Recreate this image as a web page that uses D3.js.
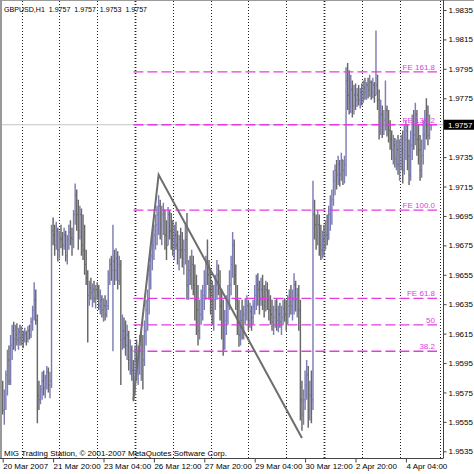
<!DOCTYPE html>
<html><head><meta charset="utf-8">
<script src="https://cdn.jsdelivr.net/npm/d3@7"></script>
<style>body{margin:0;background:#fff}svg{display:block}text{font-family:"Liberation Sans",Arial,sans-serif}</style>
</head><body><svg id="c" width="474" height="474"></svg>
<script>
// ---- data (GBPUSD, H1, 20 Mar 2007 12:00 .. 4 Apr 2007) ----
const opens=[
1.9577,1.9563,1.9570,1.9587,1.9597,1.9583,1.9607,1.9617,1.9611,1.9614,
1.9611,1.9616,1.9612,1.9614,1.9611,1.9615,1.9612,1.9617,1.9614,1.9623,
1.9631,1.9638,1.9624,1.9573,1.9570,1.9577,1.9583,1.9578,1.9585,1.9589,
1.9580,1.9583,1.9685,1.9682,1.9675,1.9685,1.9672,1.9680,1.9679,1.9675,
1.9682,1.9668,1.9679,1.9684,1.9680,1.9679,1.9696,1.9709,1.9696,1.9685,
1.9696,1.9675,1.9672,1.9662,1.9653,1.9641,1.9646,1.9643,1.9645,1.9639,
1.9645,1.9641,1.9634,1.9638,1.9631,1.9634,1.9628,1.9634,1.9655,1.9662,
1.9658,1.9664,1.9658,1.9666,1.9651,1.9662,1.9611,1.9617,1.9612,1.9607,
1.9614,1.9597,1.9604,1.9590,1.9580,1.9597,1.9593,1.9600,1.9604,1.9607,
1.9597,1.9617,1.9631,1.9638,1.9655,1.9668,1.9675,1.9682,1.9689,1.9696,
1.9702,1.9689,1.9696,1.9699,1.9682,1.9675,1.9696,1.9685,1.9679,1.9675,
1.9682,1.9675,1.9672,1.9679,1.9672,1.9666,1.9672,1.9679,1.9648,1.9658,
1.9655,1.9662,1.9648,1.9638,1.9631,1.9617,1.9628,1.9638,1.9641,1.9648,
1.9662,1.9655,1.9645,1.9638,1.9631,1.9638,1.9648,1.9655,1.9648,1.9634,
1.9621,1.9611,1.9624,1.9634,1.9638,1.9648,1.9662,1.9675,1.9655,1.9638,
1.9621,1.9614,1.9624,1.9617,1.9628,1.9631,1.9634,1.9624,1.9630,1.9626,
1.9634,1.9641,1.9648,1.9645,1.9638,1.9645,1.9639,1.9634,1.9645,1.9638,
1.9631,1.9628,1.9623,1.9626,1.9631,1.9624,1.9628,1.9623,1.9626,1.9632,
1.9628,1.9624,1.9634,1.9639,1.9634,1.9638,1.9648,1.9638,1.9641,1.9631,
1.9570,1.9560,1.9570,1.9580,1.9587,1.9563,1.9573,1.9570,1.9696,1.9689,
1.9679,1.9689,1.9675,1.9672,1.9679,1.9675,1.9682,1.9679,1.9696,1.9699,
1.9706,1.9719,1.9726,1.9723,1.9730,1.9723,1.9733,1.9726,1.9730,1.9787,
1.9777,1.9774,1.9781,1.9770,1.9777,1.9774,1.9777,1.9774,1.9779,1.9775,
1.9782,1.9779,1.9784,1.9781,1.9786,1.9779,1.9784,1.9777,1.9784,1.9774,
1.9753,1.9764,1.9757,1.9760,1.9767,1.9757,1.9753,1.9747,1.9740,1.9743,
1.9734,1.9740,1.9730,1.9736,1.9740,1.9726,1.9747,1.9753,1.9736,1.9723,
1.9743,1.9757,1.9750,1.9764,1.9747,1.9740,1.9726,1.9736,1.9750,1.9760,
1.9757,1.9750,1.9757];
const highs=[
1.9583,1.9577,1.9590,1.9604,1.9607,1.9614,1.9621,1.9623,1.9621,1.9622,
1.9619,1.9621,1.9620,1.9617,1.9619,1.9617,1.9620,1.9621,1.9626,1.9634,
1.9650,1.9645,1.9628,1.9583,1.9580,1.9589,1.9590,1.9587,1.9593,1.9592,
1.9589,1.9689,1.9694,1.9689,1.9691,1.9687,1.9685,1.9689,1.9684,1.9687,
1.9685,1.9682,1.9689,1.9692,1.9687,1.9699,1.9717,1.9713,1.9706,1.9702,
1.9700,1.9696,1.9689,1.9672,1.9658,1.9651,1.9653,1.9649,1.9651,1.9648,
1.9650,1.9648,1.9645,1.9641,1.9639,1.9641,1.9638,1.9658,1.9666,1.9668,
1.9689,1.9672,1.9673,1.9671,1.9668,1.9665,1.9628,1.9626,1.9624,1.9621,
1.9617,1.9611,1.9607,1.9597,1.9607,1.9611,1.9607,1.9614,1.9617,1.9614,
1.9624,1.9638,1.9645,1.9662,1.9675,1.9682,1.9689,1.9696,1.9702,1.9709,
1.9706,1.9702,1.9704,1.9699,1.9692,1.9701,1.9699,1.9697,1.9692,1.9689,
1.9691,1.9685,1.9682,1.9687,1.9684,1.9679,1.9689,1.9697,1.9665,1.9668,
1.9672,1.9668,1.9662,1.9655,1.9648,1.9638,1.9645,1.9648,1.9658,1.9668,
1.9679,1.9665,1.9658,1.9651,1.9648,1.9655,1.9665,1.9662,1.9658,1.9645,
1.9638,1.9631,1.9641,1.9648,1.9658,1.9668,1.9684,1.9679,1.9662,1.9648,
1.9638,1.9631,1.9638,1.9634,1.9639,1.9641,1.9638,1.9636,1.9634,1.9638,
1.9648,1.9655,1.9656,1.9651,1.9653,1.9655,1.9648,1.9651,1.9650,1.9645,
1.9641,1.9638,1.9634,1.9638,1.9639,1.9634,1.9636,1.9634,1.9638,1.9639,
1.9638,1.9641,1.9645,1.9648,1.9645,1.9656,1.9651,1.9646,1.9648,1.9638,
1.9583,1.9577,1.9590,1.9597,1.9593,1.9583,1.9590,1.9719,1.9706,1.9696,
1.9699,1.9696,1.9689,1.9685,1.9689,1.9692,1.9696,1.9702,1.9709,1.9713,
1.9726,1.9730,1.9733,1.9736,1.9733,1.9738,1.9733,1.9736,1.9796,1.9799,
1.9794,1.9791,1.9787,1.9784,1.9785,1.9782,1.9784,1.9782,1.9785,1.9787,
1.9789,1.9786,1.9789,1.9791,1.9787,1.9789,1.9786,1.9821,1.9791,1.9781,
1.9774,1.9770,1.9767,1.9787,1.9770,1.9767,1.9760,1.9753,1.9750,1.9748,
1.9747,1.9750,1.9747,1.9750,1.9753,1.9757,1.9760,1.9757,1.9747,1.9753,
1.9764,1.9767,1.9772,1.9767,1.9757,1.9750,1.9747,1.9760,1.9767,1.9775,
1.9770,1.9764,1.9757];
const lows=[
1.9560,1.9553,1.9563,1.9573,1.9580,1.9580,1.9597,1.9604,1.9603,1.9607,
1.9604,1.9607,1.9607,1.9605,1.9609,1.9607,1.9609,1.9611,1.9612,1.9617,
1.9624,1.9621,1.9554,1.9563,1.9567,1.9570,1.9573,1.9571,1.9577,1.9575,
1.9571,1.9578,1.9675,1.9668,1.9672,1.9664,1.9666,1.9673,1.9668,1.9672,
1.9664,1.9662,1.9672,1.9675,1.9668,1.9673,1.9689,1.9685,1.9672,1.9679,
1.9668,1.9665,1.9655,1.9648,1.9609,1.9634,1.9638,1.9633,1.9636,1.9632,
1.9638,1.9631,1.9628,1.9626,1.9623,1.9624,1.9626,1.9631,1.9648,1.9651,
1.9603,1.9648,1.9651,1.9645,1.9648,1.9580,1.9604,1.9605,1.9600,1.9597,
1.9590,1.9587,1.9583,1.9569,1.9573,1.9583,1.9580,1.9587,1.9583,1.9577,
1.9593,1.9607,1.9617,1.9628,1.9645,1.9658,1.9665,1.9672,1.9675,1.9682,
1.9679,1.9675,1.9682,1.9672,1.9665,1.9675,1.9679,1.9672,1.9668,1.9665,
1.9672,1.9662,1.9658,1.9666,1.9660,1.9655,1.9662,1.9638,1.9638,1.9648,
1.9645,1.9641,1.9624,1.9614,1.9607,1.9611,1.9621,1.9624,1.9631,1.9638,
1.9648,1.9638,1.9628,1.9621,1.9617,1.9631,1.9638,1.9641,1.9624,1.9611,
1.9600,1.9604,1.9614,1.9621,1.9631,1.9641,1.9653,1.9648,1.9631,1.9614,
1.9606,1.9607,1.9611,1.9611,1.9621,1.9624,1.9617,1.9619,1.9617,1.9621,
1.9628,1.9631,1.9634,1.9628,1.9634,1.9631,1.9626,1.9630,1.9631,1.9624,
1.9621,1.9617,1.9614,1.9619,1.9617,1.9616,1.9619,1.9614,1.9621,1.9623,
1.9617,1.9621,1.9626,1.9628,1.9624,1.9628,1.9630,1.9626,1.9617,1.9556,
1.9549,1.9553,1.9563,1.9570,1.9551,1.9556,1.9554,1.9563,1.9679,1.9672,
1.9675,1.9668,1.9665,1.9666,1.9668,1.9672,1.9675,1.9679,1.9685,1.9689,
1.9702,1.9709,1.9713,1.9716,1.9715,1.9719,1.9716,1.9717,1.9722,1.9767,
1.9764,1.9765,1.9762,1.9764,1.9767,1.9769,1.9770,1.9768,1.9770,1.9772,
1.9774,1.9774,1.9775,1.9776,1.9774,1.9775,1.9772,1.9777,1.9767,1.9747,
1.9750,1.9748,1.9750,1.9753,1.9749,1.9745,1.9740,1.9733,1.9730,1.9728,
1.9726,1.9723,1.9719,1.9726,1.9717,1.9723,1.9733,1.9726,1.9716,1.9719,
1.9733,1.9740,1.9743,1.9736,1.9730,1.9719,1.9721,1.9730,1.9740,1.9747,
1.9743,1.9747,1.9753];
const closes=[
1.9563,1.9570,1.9587,1.9597,1.9583,1.9607,1.9617,1.9611,1.9614,1.9611,
1.9616,1.9612,1.9614,1.9611,1.9615,1.9612,1.9617,1.9614,1.9623,1.9631,
1.9638,1.9624,1.9573,1.9570,1.9577,1.9583,1.9578,1.9585,1.9589,1.9580,
1.9583,1.9685,1.9682,1.9675,1.9685,1.9672,1.9680,1.9679,1.9675,1.9682,
1.9668,1.9679,1.9684,1.9680,1.9679,1.9696,1.9709,1.9696,1.9685,1.9696,
1.9675,1.9672,1.9662,1.9653,1.9641,1.9646,1.9643,1.9645,1.9639,1.9645,
1.9641,1.9634,1.9638,1.9631,1.9634,1.9628,1.9634,1.9655,1.9662,1.9658,
1.9664,1.9658,1.9666,1.9651,1.9662,1.9611,1.9617,1.9612,1.9607,1.9614,
1.9597,1.9604,1.9590,1.9580,1.9597,1.9593,1.9600,1.9604,1.9607,1.9597,
1.9617,1.9631,1.9638,1.9655,1.9668,1.9675,1.9682,1.9689,1.9696,1.9702,
1.9689,1.9696,1.9699,1.9682,1.9675,1.9696,1.9685,1.9679,1.9675,1.9682,
1.9675,1.9672,1.9679,1.9672,1.9666,1.9672,1.9679,1.9648,1.9658,1.9655,
1.9662,1.9648,1.9638,1.9631,1.9617,1.9628,1.9638,1.9641,1.9648,1.9662,
1.9655,1.9645,1.9638,1.9631,1.9638,1.9648,1.9655,1.9648,1.9634,1.9621,
1.9611,1.9624,1.9634,1.9638,1.9648,1.9662,1.9675,1.9655,1.9638,1.9621,
1.9614,1.9624,1.9617,1.9628,1.9631,1.9634,1.9624,1.9630,1.9626,1.9634,
1.9641,1.9648,1.9645,1.9638,1.9645,1.9639,1.9634,1.9645,1.9638,1.9631,
1.9628,1.9623,1.9626,1.9631,1.9624,1.9628,1.9623,1.9626,1.9632,1.9628,
1.9624,1.9634,1.9639,1.9634,1.9638,1.9648,1.9638,1.9641,1.9631,1.9570,
1.9560,1.9570,1.9580,1.9587,1.9563,1.9573,1.9570,1.9696,1.9689,1.9679,
1.9689,1.9675,1.9672,1.9679,1.9675,1.9682,1.9679,1.9696,1.9699,1.9706,
1.9719,1.9726,1.9723,1.9730,1.9723,1.9733,1.9726,1.9730,1.9787,1.9777,
1.9774,1.9781,1.9770,1.9777,1.9774,1.9777,1.9774,1.9779,1.9775,1.9782,
1.9779,1.9784,1.9781,1.9786,1.9779,1.9784,1.9777,1.9784,1.9774,1.9753,
1.9764,1.9757,1.9760,1.9767,1.9757,1.9753,1.9747,1.9740,1.9743,1.9734,
1.9740,1.9730,1.9736,1.9740,1.9726,1.9747,1.9753,1.9736,1.9723,1.9743,
1.9757,1.9750,1.9764,1.9747,1.9740,1.9726,1.9736,1.9750,1.9760,1.9757,
1.9750,1.9757,1.9757];

const yTickValues=[1.9835,1.9815,1.9795,1.9775,1.9755,1.9735,1.9715,1.9695,1.9675,1.9655,1.9635,1.9615,1.9595,1.9575,1.9555,1.9535];
const xTickBars=[0,32,64,96,128,160,192,224,256];
const xTickLabels=["20 Mar 2007","21 Mar 20:00","23 Mar 04:00","26 Mar 12:00","27 Mar 20:00","29 Mar 04:00","30 Mar 12:00","2 Apr 20:00","4 Apr 04:00"];
const daySeparatorBars=[12,36,60,84,108,132,156,180,204,228,252];
const weekStartBars=[84,204];
// Fibonacci expansion anchors (bar index, price)
const feAnchorBars=[83,99,190];
const feAnchorPrices=[1.9570,1.9723,1.9544];
const feLabels=["FE 161.8","FE 138.2","FE 100.0","FE 61.8","50","38.2"];
const fePrices=[1.9793,1.9757,1.9699,1.9639,1.9621,1.9603];
const titleText="GBPUSD,H1  1.9757  1.9757  1.9753  1.9757";
const footerText="MIG Trading Station, © 2001-2007 MetaQuotes Software Corp.";
const bidPrice=1.9757;

// ---- drawing ----
const svg=d3.select('#c');
const P={l:2,r:443,t:1,b:458};
const x=d3.scaleLinear().domain([0,272]).range([2.7,2.7+272*1.575]);
const y=d3.scaleLinear().domain([1.9535,1.9835]).range([451.3,10]);

svg.append('rect').attr('width',474).attr('height',474).attr('fill','#fff');

// day separators
svg.append('g').selectAll('line').data(daySeparatorBars).join('line')
  .attr('x1',d=>Math.round(x(d))+0.5).attr('x2',d=>Math.round(x(d))+0.5)
  .attr('y1',P.t).attr('y2',P.b)
  .attr('stroke','#222').attr('stroke-width',d=>weekStartBars.includes(d)?1.8:1)
  .attr('stroke-dasharray','1,2');
svg.append('line').attr('x1',440.5).attr('x2',440.5).attr('y1',P.t).attr('y2',P.b)
  .attr('stroke','#222').attr('stroke-dasharray','1,2');

// bid line
svg.append('line').attr('x1',P.l).attr('x2',P.r).attr('y1',y(bidPrice)).attr('y2',y(bidPrice))
  .attr('stroke','#c4c4c4').attr('stroke-width',1);

// OHLC bars
const bars=d3.range(opens.length);
svg.append('g').selectAll('path').data(bars).join('path')
  .attr('d',i=>{const cx=x(i);return `M${cx},${y(highs[i])}V${y(lows[i])}M${cx-1},${y(opens[i])}H${cx}M${cx},${y(closes[i])}H${cx+1}`;})
  .attr('fill','none')
  .attr('stroke',i=>closes[i]>=opens[i]?'#7e7eb6':'#686868')
  .attr('stroke-width',1.45);

// Fibonacci expansion levels
const feX0=x(feAnchorBars[0]), feX1=437;
const fe=svg.append('g');
fe.selectAll('line').data(fePrices).join('line')
  .attr('x1',feX0).attr('x2',feX1).attr('y1',d=>y(d)).attr('y2',d=>y(d))
  .attr('stroke','#e23ce2').attr('stroke-width',1.3).attr('stroke-dasharray','10,4');
fe.selectAll('text').data(fePrices).join('text')
  .attr('x',435).attr('y',d=>y(d)-2).attr('text-anchor','end')
  .attr('font-size','8px').attr('fill','#e23ce2').text((d,i)=>feLabels[i]);

// zigzag
svg.append('path').datum(feAnchorBars.map((b,i)=>[x(b),y(feAnchorPrices[i])]))
  .attr('d',d3.line()).attr('fill','none').attr('stroke','#6e6e6e').attr('stroke-width',2);

// frame
svg.append('rect').attr('x',0).attr('y',0).attr('width',2).attr('height',P.b).attr('fill','#9a9a9a');
svg.append('rect').attr('x',0).attr('y',0).attr('width',474).attr('height',1).attr('fill','#9a9a9a');
svg.append('line').attr('x1',P.r+0.5).attr('x2',P.r+0.5).attr('y1',0).attr('y2',P.b).attr('stroke','#444');
svg.append('line').attr('x1',0).attr('x2',P.r+0.5).attr('y1',P.b+0.5).attr('y2',P.b+0.5).attr('stroke','#444');

// right axis (the label hidden under the bid box is left blank)
const gy=svg.append('g').attr('transform',`translate(${P.r+0.5},0)`)
  .call(d3.axisRight(y).tickValues(yTickValues)
    .tickFormat(d=>Math.abs(y(d)-y(bidPrice))<8?'':d3.format('.4f')(d)).tickSize(3).tickPadding(2));
gy.select('.domain').remove();
gy.selectAll('line').attr('stroke','#444');
gy.selectAll('text').attr('font-size','8px').attr('fill','#000').attr('font-family','"Liberation Sans",Arial,sans-serif');

// bid label
svg.append('rect').attr('x',444).attr('y',y(bidPrice)-5).attr('width',30).attr('height',10).attr('fill','#000');
svg.append('text').attr('x',448).attr('y',y(bidPrice)+3).attr('font-size','8px').attr('fill','#fff').text(d3.format('.4f')(bidPrice));

// bottom axis
const gx=svg.append('g').attr('transform',`translate(0,${P.b+0.5})`)
  .call(d3.axisBottom(x).tickValues(xTickBars).tickFormat((d,i)=>xTickLabels[i]).tickSize(4).tickPadding(2));
gx.select('.domain').remove();
gx.selectAll('line').attr('stroke','#444');
gx.selectAll('text').attr('text-anchor','start').attr('font-size','8px').attr('fill','#000')
  .attr('font-family','"Liberation Sans",Arial,sans-serif').attr('dy','0.71em').attr('y',5);

// title & footer
svg.append('text').attr('x',4).attr('y',11.5).attr('font-size','8px').attr('fill','#000')
  .attr('xml:space','preserve').style('white-space','pre')
  .attr('textLength',143).attr('lengthAdjust','spacingAndGlyphs').text(titleText);
svg.append('text').attr('x',4).attr('y',455.5).attr('font-size','8px').attr('fill','#000')
  .attr('textLength',223).attr('lengthAdjust','spacingAndGlyphs').text(footerText);
</script></body></html>
